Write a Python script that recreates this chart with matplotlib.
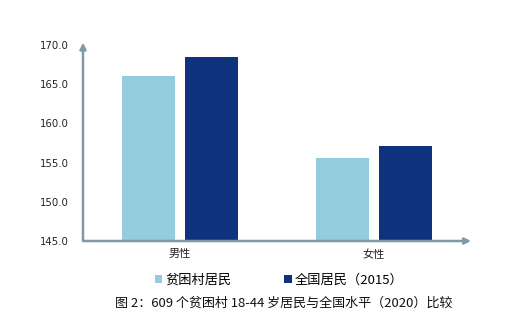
import matplotlib
matplotlib.use("Agg")
import matplotlib.pyplot as plt
import numpy as np

plt.rcParams['font.family'] = ['Noto Sans CJK SC', 'DejaVu Sans']

categories = ["男性", "女性"]
poor_village = [166.1, 155.6]
national_2015 = [168.5, 157.1]
series_names = ["贫困村居民", "全国居民（2015）"]
yticks = [145.0, 150.0, 155.0, 160.0, 165.0, 170.0]
caption = "图 2：609 个贫困村 18-44 岁居民与全国水平（2020）比较"

light = "#94CBDD"
dark = "#0E337C"
axis_col = "#7F9BA9"

fig = plt.figure(figsize=(5.32, 3.30), dpi=100)
ax = fig.add_axes([83 / 532, 1 - 241 / 330, (471 - 83) / 532, (241 - 45) / 330])

x = np.arange(len(categories))
w = 0.273
off = 0.16
b1 = ax.bar(x - off, np.array(poor_village) - 145, w, bottom=145, color=light, label=series_names[0])
b2 = ax.bar(x + off, np.array(national_2015) - 145, w, bottom=145, color=dark, label=series_names[1])

ax.set_xlim(-0.5, 1.5)
ax.set_ylim(145, 170)
ax.set_yticks(yticks)
ax.set_yticklabels([f"{v:.1f}" for v in yticks], fontsize=7.3, color="#222222", family="DejaVu Sans")
ax.set_xticks(x)
ax.set_xticklabels(categories, fontsize=8, color="#222222")
ax.tick_params(length=0, pad=10)
ax.tick_params(axis="x", pad=6)
for s in ax.spines.values():
    s.set_visible(False)

# axes with arrow heads
ax.annotate("", xy=(0, 1.012), xytext=(0, 0), xycoords="axes fraction",
            arrowprops=dict(arrowstyle="-|>", color=axis_col, lw=1.8, mutation_scale=9,
                            shrinkA=0, shrinkB=0))
ax.annotate("", xy=(1.0, 0), xytext=(0, 0), xycoords="axes fraction",
            arrowprops=dict(arrowstyle="-|>", color=axis_col, lw=1.8, mutation_scale=9,
                            shrinkA=0, shrinkB=0))

fig.legend(handles=[b1, b2], labels=series_names, loc="center", ncol=2,
           bbox_to_anchor=(279 / 532, 1 - 280 / 330), frameon=False, fontsize=9.5,
           handlelength=0.6, handleheight=0.6, handletextpad=0.2, columnspacing=4.0)

fig.text(284 / 532, 1 - 303 / 330, caption, ha="center", va="center", fontsize=9.4, color="#111111")

fig.savefig("out.png", dpi=100)
